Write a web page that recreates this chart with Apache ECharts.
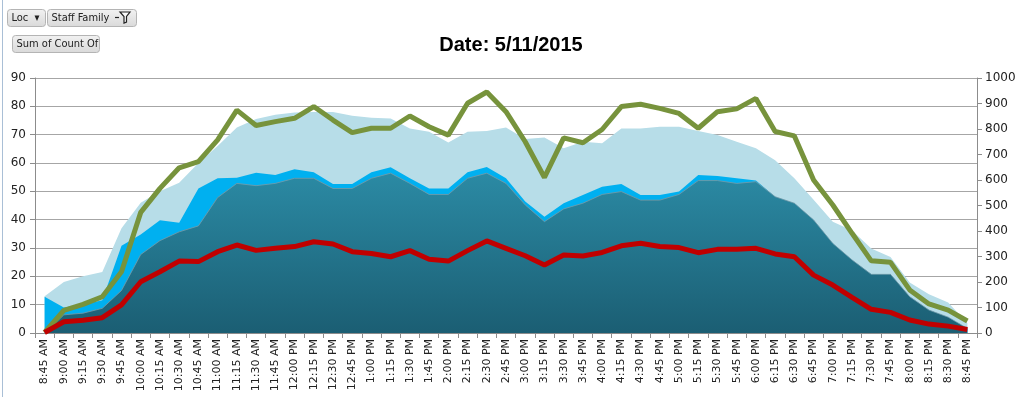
<!DOCTYPE html>
<html>
    <head>
        <meta charset="utf-8" />
        <script src="https://cdn.jsdelivr.net/npm/echarts@6/dist/echarts.min.js"></script>
        <style>
            html, body { margin: 0; padding: 0; background: #fff; }
        </style>
    </head>
    <body>
        <div id="main" style="width: 1024px; height: 397px"></div>
        <script type="text/javascript">
            // time slots, 15 minutes apart
            const times = [
                "8:45 AM", "9:00 AM", "9:15 AM", "9:30 AM", "9:45 AM", "10:00 AM", "10:15 AM", "10:30 AM",
                "10:45 AM", "11:00 AM", "11:15 AM", "11:30 AM", "11:45 AM", "12:00 PM", "12:15 PM", "12:30 PM",
                "12:45 PM", "1:00 PM", "1:15 PM", "1:30 PM", "1:45 PM", "2:00 PM", "2:15 PM", "2:30 PM",
                "2:45 PM", "3:00 PM", "3:15 PM", "3:30 PM", "3:45 PM", "4:00 PM", "4:15 PM", "4:30 PM",
                "4:45 PM", "5:00 PM", "5:15 PM", "5:30 PM", "5:45 PM", "6:00 PM", "6:15 PM", "6:30 PM",
                "6:45 PM", "7:00 PM", "7:15 PM", "7:30 PM", "7:45 PM", "8:00 PM", "8:15 PM", "8:30 PM", "8:45 PM"
            ];

            // areas, left axis
            const lightBlue = [
                13, 18, 20, 21.5, 37, 46, 50, 53, 60, 66, 72.5, 75.5, 77, 77.8, 78, 78, 76.7, 76, 75.7, 72.2,
                71, 67.2, 71, 71.3, 72.5, 68.5, 69, 65.2, 67.5, 67, 72.2, 72.2, 72.8, 72.8, 71.3, 69.9, 67.5,
                65.2, 61, 54.6, 47, 39.3, 36.2, 29.8, 26.8, 17.8, 13.7, 10.8, 3.4
            ];
            const brightBlue = [
                12.8, 9, 10.1, 11.6, 30.8, 34.8, 39.8, 38.9, 51, 54.6, 54.8, 56.6, 55.8, 57.8, 56.7, 52.6,
                52.6, 56.7, 58.5, 54.6, 51, 51, 56.7, 58.6, 54.6, 46.4, 41, 45.8, 48.7, 51.6, 52.6, 48.7, 48.7,
                49.9, 55.8, 55.4, 54.6, 53.8, 48.1, 45.8, 39.9, 31.6, 25.8, 20.7, 20.7, 12.8, 8.1, 5.6, 1.6
            ];
            const teal = [
                0, 6.4, 7, 8.7, 15, 27.7, 32.6, 35.7, 37.8, 47.8, 52.8, 52, 52.8, 54.6, 54.6, 51, 51, 54.6,
                56.4, 52.8, 48.9, 48.9, 54.6, 56.4, 52.8, 45.2, 39.3, 43.8, 45.8, 48.9, 49.9, 46.9, 46.9, 48.9,
                53.8, 53.8, 52.8, 53.4, 48.1, 45.8, 39.9, 31.6, 25.8, 20.7, 20.7, 12.8, 8.1, 5.6, 1.6
            ];

            // lines, right axis
            const greenLine = [
                2, 89, 112, 142, 240, 473, 567, 648, 672, 757, 874, 814, 829, 842, 888, 835, 786, 803, 803,
                851, 809, 776, 901, 945, 868, 750, 610, 765, 746, 798, 888, 897, 881, 861, 803, 868, 879, 920,
                790, 773, 600, 502, 391, 283, 277, 169, 114, 90, 47
            ];
            const redLine = [
                2, 44, 50, 60, 110, 201, 240, 282, 280, 319, 345, 324, 332, 339, 358, 349, 319, 312, 299,
                323, 289, 282, 323, 361, 332, 303, 267, 306, 302, 316, 342, 352, 339, 335, 315, 328, 328, 332,
                310, 299, 227, 188, 140, 93, 81, 51, 35, 27, 14
            ];

            const leftTicks = [0, 90, 10];
            const rightTicks = [0, 1000, 100];

            const myChart = echarts.init(document.getElementById("main"));

            function button(x, y, w, label) {
                return {
                    type: "group",
                    left: x,
                    top: y,
                    children: [
                        {
                            type: "rect",
                            shape: { x: 0, y: 0, width: w, height: 17, r: 3 },
                            style: {
                                fill: new echarts.graphic.LinearGradient(0, 0, 0, 1, [
                                    { offset: 0, color: "#f2f2f2" },
                                    { offset: 1, color: "#d9d9d9" },
                                ]),
                                stroke: "#b4b4b4",
                                lineWidth: 1,
                            },
                        },
                        {
                            type: "text",
                            x: 4,
                            y: 3,
                            style: { text: label, fontSize: 11, fontFamily: "DejaVu Sans Condensed, Liberation Sans", fill: "#222" },
                        },
                    ],
                };
            }

            const axisText = { color: "#222", fontSize: 12, fontFamily: "DejaVu Sans" };

            myChart.setOption({
                animation: false,
                title: {
                    text: "Date: 5/11/2015",
                    left: 506,
                    textAlign: "center",
                    top: 30,
                    textStyle: { fontSize: 20, fontWeight: "bold", color: "#000", fontFamily: "Liberation Sans Narrow, Liberation Sans" },
                },
                graphic: [
                    { type: "line", shape: { x1: 2.5, y1: 0, x2: 2.5, y2: 397 }, style: { stroke: "#a9bfd6", lineWidth: 1 } },
                    button(7, 9, 38, "Loc  \u25BE"),
                    button(47, 9, 89, "Staff Family"),
                    { type: "line", shape: { x1: 115, y1: 17.5, x2: 119, y2: 17.5 }, style: { stroke: "#222", lineWidth: 1.2 } },
                    {
                        type: "polygon",
                        shape: { points: [[120, 12], [130, 12], [126.5, 16.5], [126.5, 22], [124, 23], [124, 16.5]] },
                        style: { fill: "#fafafa", stroke: "#222", lineWidth: 1.2 },
                    },
                    button(12, 35, 87, "Sum of Count Of"),
                ],
                grid: { left: 35, right: 47, top: 78, bottom: 64 },
                xAxis: {
                    type: "category",
                    data: times,
                    boundaryGap: true,
                    axisLine: { lineStyle: { color: "#8c8c8c" } },
                    axisTick: { show: true, length: 5, lineStyle: { color: "#8c8c8c" } },
                    axisLabel: { rotate: 90, interval: 0, fontSize: 11, color: "#222", fontFamily: "DejaVu Sans", margin: 6 },
                },
                yAxis: [
                    {
                        type: "value",
                        min: leftTicks[0],
                        max: leftTicks[1],
                        interval: leftTicks[2],
                        axisLine: { show: true, lineStyle: { color: "#8c8c8c" } },
                        axisTick: { show: true, length: 5, lineStyle: { color: "#8c8c8c" } },
                        axisLabel: Object.assign({ margin: 9 }, axisText),
                        splitLine: { show: true, lineStyle: { color: "#a6a6a6", width: 1 } },
                    },
                    {
                        type: "value",
                        min: rightTicks[0],
                        max: rightTicks[1],
                        interval: rightTicks[2],
                        position: "right",
                        axisLine: { show: true, lineStyle: { color: "#8c8c8c" } },
                        axisTick: { show: true, length: 5, lineStyle: { color: "#8c8c8c" } },
                        axisLabel: Object.assign({ margin: 8, formatter: (v) => String(v) }, axisText),
                        splitLine: { show: false },
                    },
                ],
                series: [
                    {
                        name: "Light",
                        type: "line",
                        data: lightBlue,
                        showSymbol: false,
                        lineStyle: { width: 0 },
                        areaStyle: { color: "#b7dde8", opacity: 1 },
                        z: 1,
                    },
                    {
                        name: "Bright",
                        type: "line",
                        data: brightBlue,
                        showSymbol: false,
                        lineStyle: { width: 0 },
                        areaStyle: { color: "#00b0f0", opacity: 1 },
                        z: 2,
                    },
                    {
                        name: "Teal",
                        type: "line",
                        data: teal,
                        showSymbol: false,
                        lineStyle: { width: 0.8, color: "#7a9aa6" },
                        areaStyle: {
                            opacity: 1,
                            color: new echarts.graphic.LinearGradient(0, 0, 0, 1, [
                                { offset: 0, color: "#2b8aa4" },
                                { offset: 1, color: "#1b5e73" },
                            ]),
                        },
                        z: 3,
                    },
                    {
                        name: "Green",
                        type: "line",
                        yAxisIndex: 1,
                        data: greenLine,
                        showSymbol: false,
                        lineStyle: { width: 5, color: "#77933c" },
                        z: 4,
                    },
                    {
                        name: "Red",
                        type: "line",
                        yAxisIndex: 1,
                        data: redLine,
                        showSymbol: false,
                        lineStyle: { width: 5, color: "#c00000" },
                        z: 5,
                    },
                ],
            });
        </script>
    </body>
</html>
